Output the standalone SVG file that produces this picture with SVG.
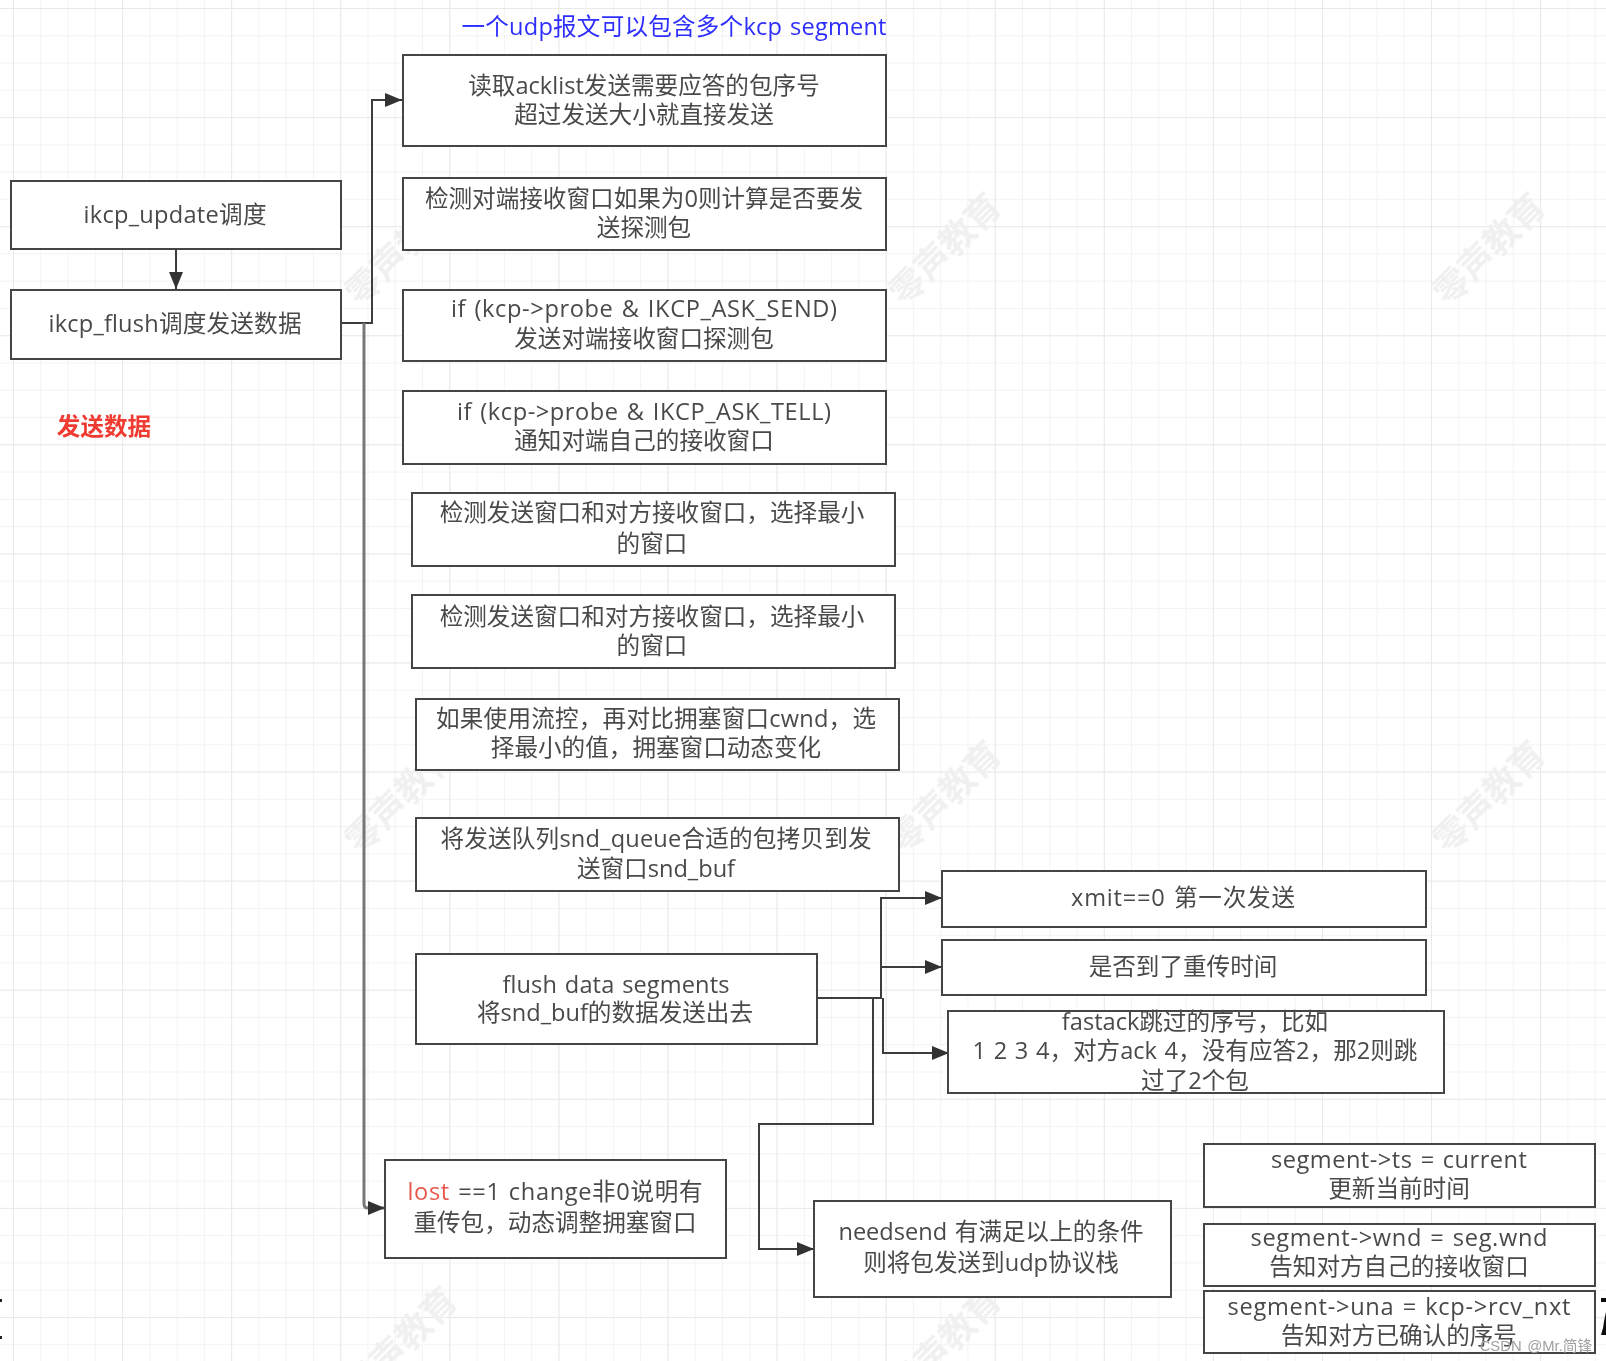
<svg xmlns="http://www.w3.org/2000/svg" width="1606" height="1361" viewBox="0 0 1606 1361">
<style>
text{font-family:"Open Sans","Noto Sans CJK SC","Noto Sans",sans-serif;font-size:23.6px;fill:#4a4a4a;text-anchor:middle;word-spacing:1.5px}
.box{fill:#fff;stroke:#454545;stroke-width:2}
.c{fill:none;stroke:#3c3c3c;stroke-width:2}
.wm{font-family:"Noto Sans CJK SC",sans-serif;font-size:35px;font-weight:700;fill:#f0f0f0}
</style>
<defs>
<filter id="soft" x="-2%" y="-2%" width="104%" height="104%"><feGaussianBlur stdDeviation="0.6"/></filter>
<pattern id="minor" patternUnits="userSpaceOnUse" x="13" y="8" width="27.27" height="27.27"><path d="M0 0V27.27M0 0H27.27" stroke="#f3f3f3" stroke-width="2" fill="none"/></pattern>
<pattern id="major" patternUnits="userSpaceOnUse" x="13" y="8" width="109.08" height="109.08"><path d="M0 0V109.08M0 0H109.08" stroke="#e9e9e9" stroke-width="2" fill="none"/></pattern>
<marker id="arr" markerUnits="userSpaceOnUse" markerWidth="18" markerHeight="16" refX="17" refY="7" orient="auto"><path d="M0 0L17 7L0 14Z" fill="#333"/></marker>
</defs>
<rect width="1606" height="1361" fill="#fff"/>
<rect width="1606" height="1361" fill="url(#minor)"/>
<rect width="1606" height="1361" fill="url(#major)"/>
<g id="watermarks" filter="url(#soft)">
<text class="wm" transform="translate(410 258) rotate(-45)">零声教育</text>
<text class="wm" transform="translate(954 258) rotate(-45)">零声教育</text>
<text class="wm" transform="translate(1498 258) rotate(-45)">零声教育</text>
<text class="wm" transform="translate(410 806) rotate(-45)">零声教育</text>
<text class="wm" transform="translate(954 806) rotate(-45)">零声教育</text>
<text class="wm" transform="translate(1498 806) rotate(-45)">零声教育</text>
<text class="wm" transform="translate(410 1352) rotate(-45)">零声教育</text>
<text class="wm" transform="translate(954 1352) rotate(-45)">零声教育</text>
</g>
<g filter="url(#soft)">
<g id="connectors">
<path class="c" d="M176 250V289" marker-end="url(#arr)"/>
<path class="c" d="M341 323H372V100H402" marker-end="url(#arr)"/>
<path d="M364 323V1204Q364 1208 368 1208H385" fill="none" stroke="#777" stroke-width="3" marker-end="url(#arr)"/>
<path class="c" d="M817 998H881V898H942" marker-end="url(#arr)"/>
<path class="c" d="M881 967H942" marker-end="url(#arr)"/>
<path class="c" d="M883 998V1053H949" marker-end="url(#arr)"/>
<path class="c" d="M873 998V1124H759V1249H814" marker-end="url(#arr)"/>
</g>
<g id="n-update"><rect class="box" x="11" y="181" width="330" height="68"/><text x="175" y="223" textLength="183">ikcp_update调度</text></g>
<g id="n-flush"><rect class="box" x="11" y="290" width="330" height="69"/><text x="175" y="332" textLength="253">ikcp_flush调度发送数据</text></g>
<g id="n-label-send"><text x="104" y="435" style="fill:#f03a30;font-weight:700">发送数据</text></g>
<g id="n-label-udp"><text x="674" y="35" style="fill:#2f2fff" textLength="425">一个udp报文可以包含多个kcp segment</text></g>
<g id="n-acklist"><rect class="box" x="403" y="55" width="483" height="91"/><text x="644" y="94">读取acklist发送需要应答的包序号</text><text x="644" y="123">超过发送大小就直接发送</text></g>
<g id="n-probe"><rect class="box" x="403" y="178" width="483" height="72"/><text x="644" y="207">检测对端接收窗口如果为0则计算是否要发</text><text x="644" y="236">送探测包</text></g>
<g id="n-asksend"><rect class="box" x="403" y="290" width="483" height="71"/><text x="644" y="317" textLength="386">if (kcp-&gt;probe &amp; IKCP_ASK_SEND)</text><text x="644" y="347">发送对端接收窗口探测包</text></g>
<g id="n-asktell"><rect class="box" x="403" y="391" width="483" height="73"/><text x="644" y="420" textLength="374">if (kcp-&gt;probe &amp; IKCP_ASK_TELL)</text><text x="644" y="449">通知对端自己的接收窗口</text></g>
<g id="n-wnd1"><rect class="box" x="412" y="493" width="483" height="73"/><text x="652" y="521">检测发送窗口和对方接收窗口，选择最小</text><text x="652" y="552">的窗口</text></g>
<g id="n-wnd2"><rect class="box" x="412" y="595" width="483" height="73"/><text x="652" y="625">检测发送窗口和对方接收窗口，选择最小</text><text x="652" y="654">的窗口</text></g>
<g id="n-cwnd"><rect class="box" x="416" y="699" width="483" height="71"/><text x="656" y="727" textLength="440">如果使用流控，再对比拥塞窗口cwnd，选</text><text x="656" y="756">择最小的值，拥塞窗口动态变化</text></g>
<g id="n-queue"><rect class="box" x="416" y="818" width="483" height="73"/><text x="656" y="847" textLength="431">将发送队列snd_queue合适的包拷贝到发</text><text x="656" y="877">送窗口snd_buf</text></g>
<g id="n-data"><rect class="box" x="416" y="954" width="401" height="90"/><text x="616" y="993" textLength="227">flush data segments</text><text x="615" y="1021">将snd_buf的数据发送出去</text></g>
<g id="n-xmit"><rect class="box" x="942" y="871" width="484" height="56"/><text x="1183" y="906" textLength="224">xmit==0 第一次发送</text></g>
<g id="n-retrans"><rect class="box" x="942" y="940" width="484" height="55"/><text x="1183" y="975">是否到了重传时间</text></g>
<g id="n-fastack"><rect class="box" x="948" y="1011" width="496" height="82"/><text x="1195" y="1030">fastack跳过的序号，比如</text><text x="1195" y="1059">1 2 3 4，对方ack 4，没有应答2，那2则跳</text><text x="1195" y="1089">过了2个包</text></g>
<g id="n-lost"><rect class="box" x="385" y="1160" width="341" height="98"/><text x="555" y="1200" textLength="295"><tspan style="fill:#e8594e">lost</tspan> ==1 change非0说明有</text><text x="555" y="1231">重传包，动态调整拥塞窗口</text></g>
<g id="n-needsend"><rect class="box" x="814" y="1201" width="357" height="96"/><text x="991" y="1240">needsend 有满足以上的条件</text><text x="991" y="1271">则将包发送到udp协议栈</text></g>
<g id="n-ts"><rect class="box" x="1204" y="1144" width="391" height="63"/><text x="1399" y="1168" textLength="256">segment-&gt;ts = current</text><text x="1399" y="1197">更新当前时间</text></g>
<g id="n-wnd"><rect class="box" x="1204" y="1224" width="391" height="62"/><text x="1399" y="1246" textLength="297">segment-&gt;wnd = seg.wnd</text><text x="1399" y="1275">告知对方自己的接收窗口</text></g>
<g id="n-una"><rect class="box" x="1204" y="1291" width="391" height="62"/><text x="1399" y="1315" textLength="343">segment-&gt;una = kcp-&gt;rcv_nxt</text><text x="1399" y="1344">告知对方已确认的序号</text></g>
<path d="M1601 1298H1606V1302H1601ZM1606 1312V1335H1601L1603 1328Q1604 1320 1606 1312Z" fill="#111"/>
<path d="M0 1299H2V1302H0ZM0 1336H2V1339H0Z" fill="#222"/>
</g>
<text x="1536" y="1351" style="font-size:14.8px;fill:#a0a0a0;font-family:'Liberation Sans','Noto Sans CJK SC',sans-serif">CSDN @Mr.简锋</text>
</svg>
